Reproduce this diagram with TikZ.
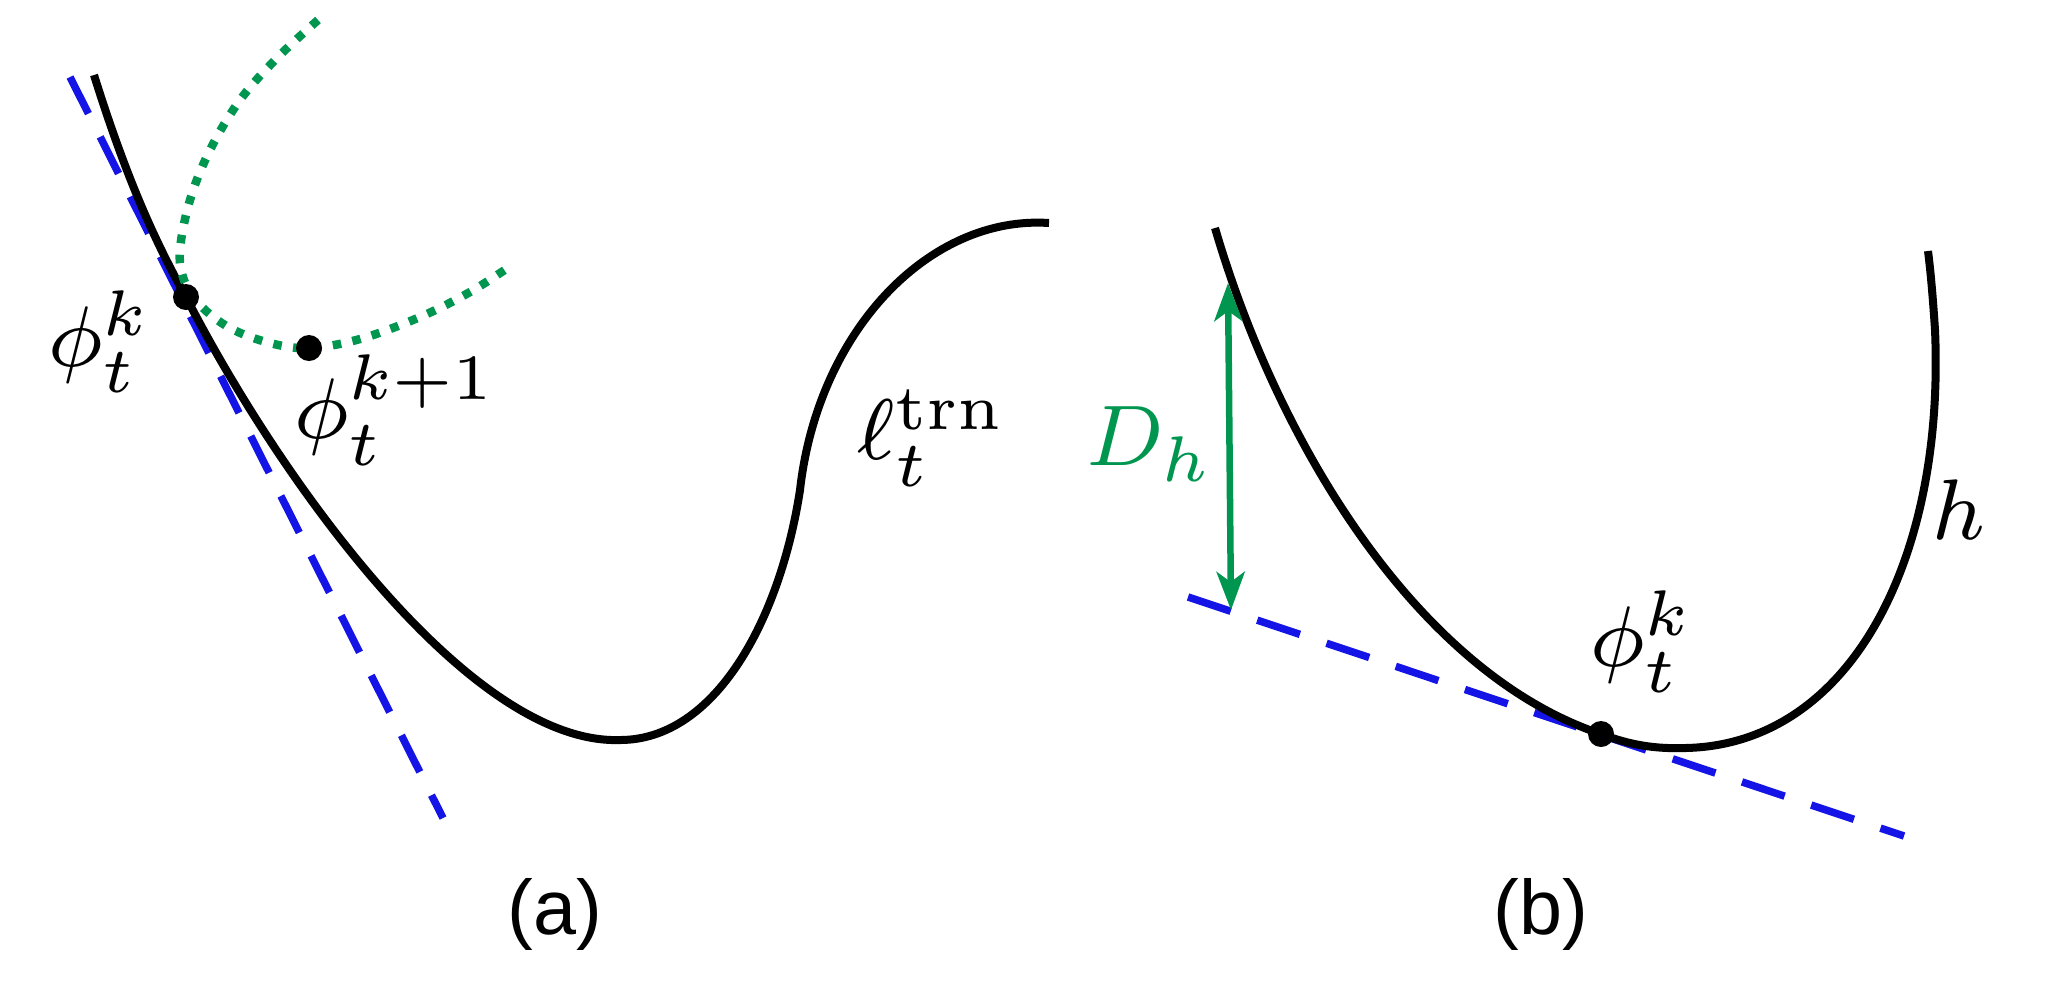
\documentclass[tikz,border=0pt]{standalone}
\usepackage[no-math]{fontspec}
\usepackage{graphicx}
\newfontfamily\labfont{Liberation Sans}
\usetikzlibrary{arrows.meta}
\definecolor{dblue}{RGB}{20,20,230}
\definecolor{dgreen}{RGB}{0,150,80}
\newcommand{\mlab}[1]{\scalebox{3.06}{\fontsize{8}{10}\selectfont$#1$}}
\begin{document}
\begin{tikzpicture}[x=0.1mm,y=-0.1mm,
  curve/.style={line width=0.8mm},
  tangent/.style={dblue, line width=0.75mm, dash pattern=on 4.1mm off 2.6mm},
  tangentb/.style={dblue, line width=0.75mm, dash pattern=on 4.5mm off 2.8mm},
  proxy/.style={dgreen, line width=0.85mm, dash pattern=on 0.85mm off 1.15mm},
  pt/.style={circle, fill=black, inner sep=0pt, minimum size=2.6mm},
  lab/.style={inner sep=0pt},
  captext/.style={font=\labfont\fontsize{22}{26}\selectfont, inner sep=0pt}]
\useasboundingbox (0,0) rectangle (2048,988);
% ---------- panel (a) ----------
\coordinate (bt1) at (70,77);
\coordinate (bt2) at (443,818);
\draw[tangent] (bt1) -- (bt2);
\draw[curve] (94,75) .. controls (130,190) and (160,250) .. (186,297)
  .. controls (280,480) and (470,745) .. (620,740)
  .. controls (715,740) and (780,620) .. (800,490)
  .. controls (818,330) and (930,215) .. (1049,223);
\draw[proxy] plot[smooth, tension=0.6] coordinates {(318,20) (277,58) (240,100) (210,150) (190,200) (180,250) (184,280) (200,305) (230,328) (270,343) (309,348) (360,339) (420,317) (470,292) (512,265)};
\node[pt] (pk) at (186,297) {};
\node[pt] (pk1) at (309,348) {};
\node[lab] (lpk) at (100,342) {\mlab{\phi_t^k}};
\node[lab] (lpk1) at (396,410) {\mlab{\phi_t^{k+1}}};
\node[lab] (lltrn) at (932,438) {\mlab{\ell_t^{\mathrm{trn}}}};
\node[captext] (capa) at (555,914) {(a)};
% ---------- panel (b) ----------
\coordinate (rt1) at (1188,597);
\coordinate (rt2) at (1904,836);
\draw[tangentb] (rt1) -- (rt2);
\draw[curve] (1215,228) .. controls (1280,450) and (1421,674) .. (1601,734)
  .. controls (1630,745) and (1655,749) .. (1685,748)
  .. controls (1850,745) and (1945,560) .. (1935,330)
  .. controls (1933,300) and (1931,275) .. (1928,251);
\node[pt] (qk) at (1601,734) {};
\coordinate (dtop) at (1228,283);
\coordinate (dbot) at (1231,610);
\draw[dgreen, line width=0.65mm, {Stealth[length=3.8mm,width=2.8mm,inset=1mm]}-{Stealth[length=3.8mm,width=2.8mm,inset=1mm]}] (dtop) -- (dbot);
\node[lab, text=dgreen] (ldh) at (1150,444) {\mlab{D_h}};
\node[lab] (lh) at (1959,510) {\mlab{h}};
\node[lab] (lqk) at (1642,642) {\mlab{\phi_t^k}};
\node[captext] (capb) at (1541,914) {(b)};
\end{tikzpicture}
\end{document}
